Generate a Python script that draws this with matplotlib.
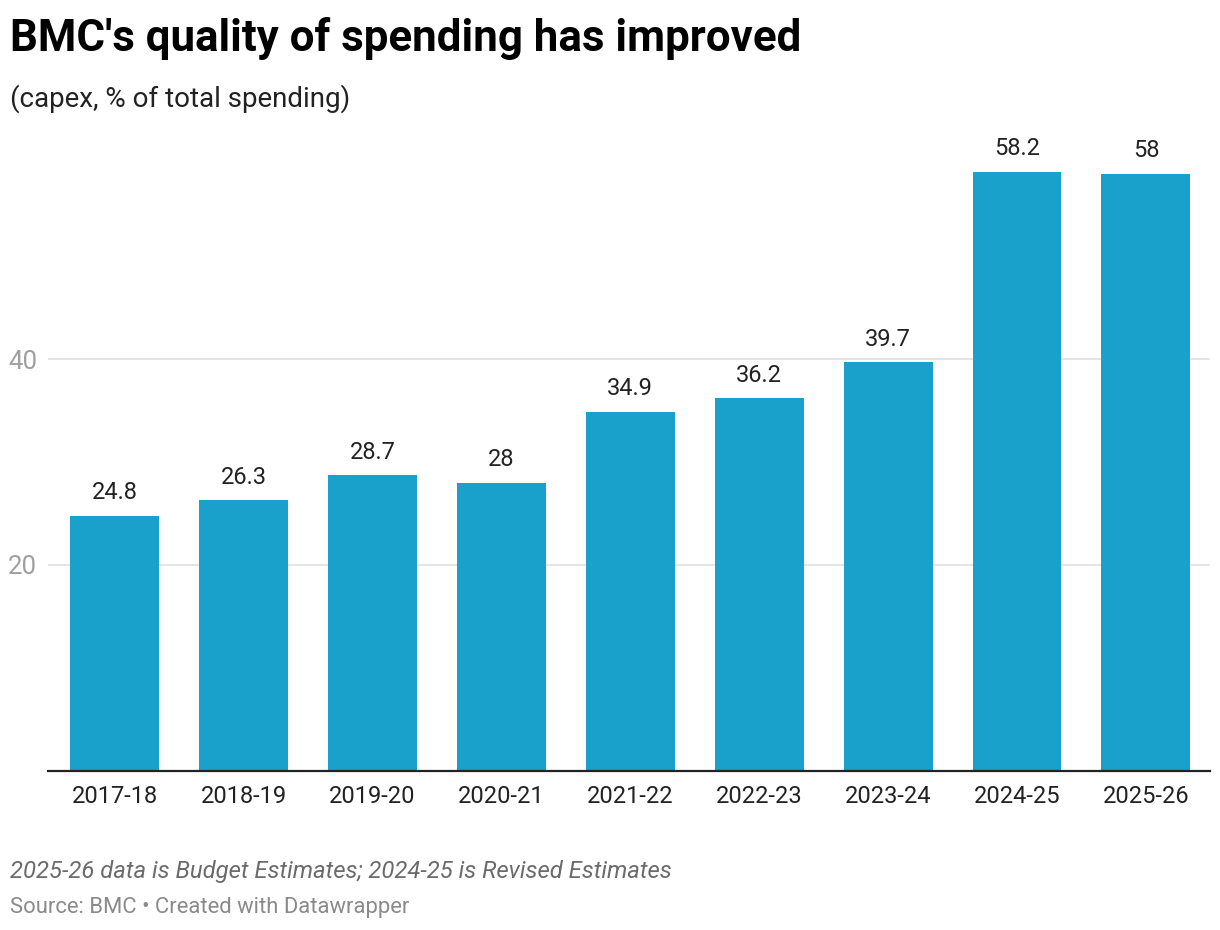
import matplotlib.pyplot as plt

plt.rcParams['font.family'] = ['Roboto', 'DejaVu Sans']

# Data
years = ["2017-18", "2018-19", "2019-20", "2020-21", "2021-22",
         "2022-23", "2023-24", "2024-25", "2025-26"]
capex_share = [24.8, 26.3, 28.7, 28, 34.9, 36.2, 39.7, 58.2, 58]
value_labels = ["24.8", "26.3", "28.7", "28", "34.9", "36.2", "39.7", "58.2", "58"]
y_ticks = [20, 40]

W, H = 1220, 930
fig = plt.figure(figsize=(W / 100, H / 100), dpi=100)

# axes placed in pixel coordinates
left, right, top, bottom = 48, 1210, 130, 771
ax = fig.add_axes([left / W, 1 - bottom / H, (right - left) / W, (bottom - top) / H])

x = range(len(years))
ax.bar(x, capex_share, width=0.69, color="#19a1cc", zorder=2)

for xi, v, lab in zip(x, capex_share, value_labels):
    ax.annotate(lab, (xi, v), xytext=(0, 8), textcoords="offset points",
                ha="center", va="bottom", fontsize=17, color="#222222")

ax.set_xlim(-0.516, 8.497)
ax.set_ylim(0, (bottom - top) / 10.3)
ax.set_xticks(list(x))
ax.set_xticklabels(years, fontsize=17, color="#222222")
ax.set_yticks(y_ticks)
ax.set_yticklabels([str(t) for t in y_ticks], fontsize=18.5, color="#a0a0a0")
ax.tick_params(axis="both", length=0)
ax.tick_params(axis="x", pad=10)
ax.tick_params(axis="y", pad=8)
ax.grid(axis="y", color="#e3e3e3", linewidth=1.3, zorder=0)

for s in ["left", "right", "top"]:
    ax.spines[s].set_visible(False)
ax.spines["bottom"].set_color("#222222")
ax.spines["bottom"].set_linewidth(1.6)
ax.spines["bottom"].set_zorder(3)

# Titles and notes
fig.text(10 / W, 1 - 38 / H, "BMC's quality of spending has improved",
         fontsize=31.6, fontweight="bold", color="#000000", va="center", ha="left")
fig.text(10 / W, 1 - 99 / H, "(capex, % of total spending)",
         fontsize=20, color="#222222", va="center", ha="left")
fig.text(10 / W, 1 - 871 / H,
         "2025-26 data is Budget Estimates; 2024-25 is Revised Estimates",
         fontsize=17.2, style="italic", color="#6b6b6b", va="center", ha="left")
fig.text(10 / W, 1 - 907 / H, "Source: BMC • Created with Datawrapper",
         fontsize=15.8, color="#8a8a8a", va="center", ha="left")

fig.savefig("out.png", dpi=100)
